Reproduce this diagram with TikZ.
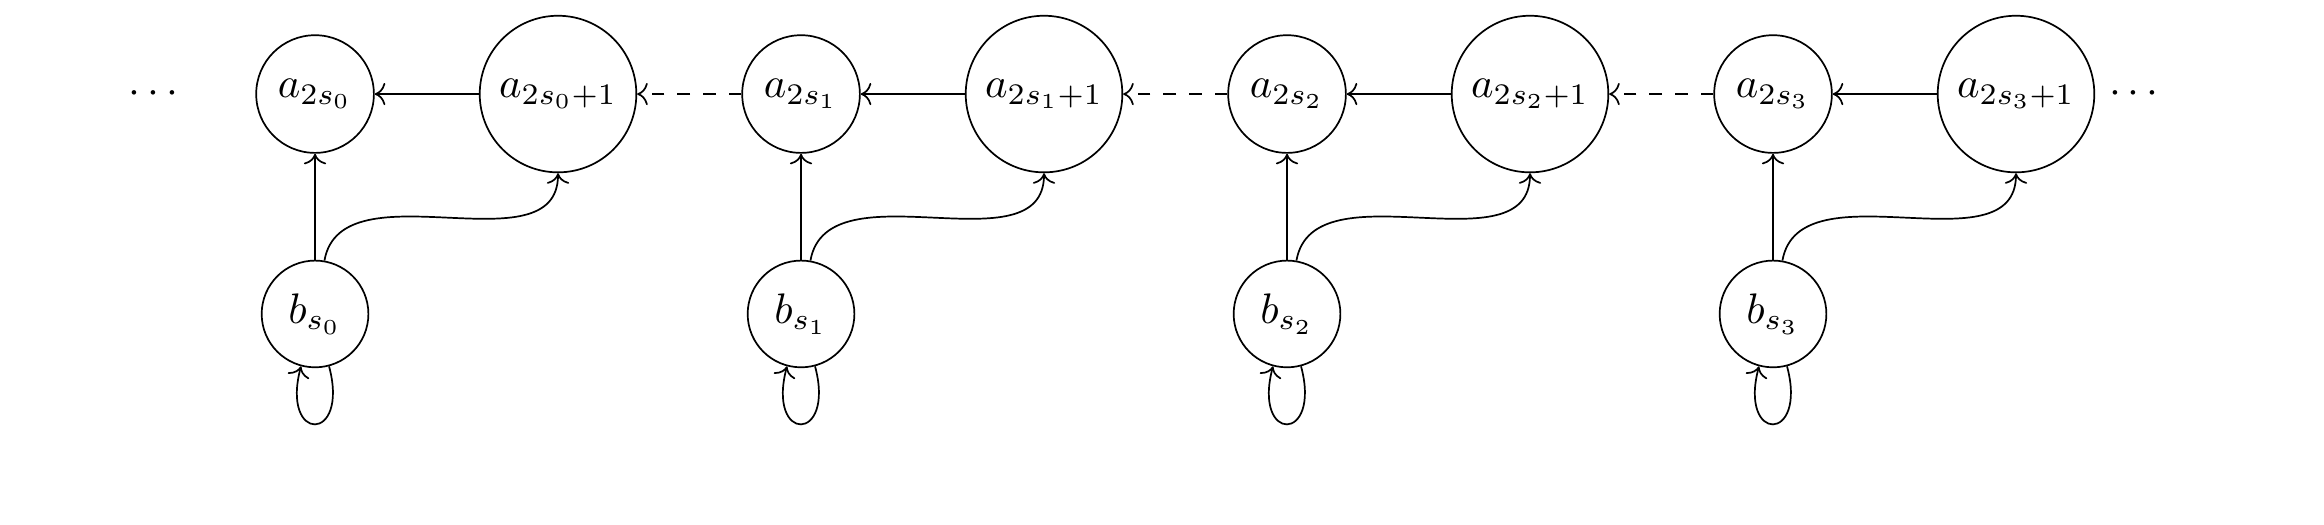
\documentclass[tikz,border=0pt]{standalone}
\usepackage{amsmath,amssymb}
\usepackage{tikz}
\usetikzlibrary{arrows.meta}

\begin{document}
\begin{tikzpicture}[>={Computer Modern Rightarrow}, state/.style={draw, circle}]
    \useasboundingbox (-2.593,-3.539) rectangle (16.535,0.774);

    % the dots at both ends
    \node (ldots) at (-1.3,0) {$\cdots$};
    \node (rdots) at (15.0,0) {$\cdots$};

    % one block per s_k
    \foreach \k in {0,1,2,3} {
      \node[state] (a\k) at (4*\k,0) {$a_{2s_\k}$};
      \node[state] (ap\k) at (4*\k+2,0) {$a_{2s_\k+1}$};
      \node[state] (b\k) at (4*\k,-1.81) {$b_{s_\k}$};
      \draw[->] (ap\k) -- (a\k);
      \draw[->] (b\k) -- (a\k);
      \draw[->] (b\k) to[out=80,in=-90] (ap\k);
      \draw[->] (b\k) edge[loop below, looseness=7.3] (b\k);
    }

    % dashed links between blocks
    \foreach \k/\n in {0/1,1/2,2/3} {
      \draw[->,dashed] (a\n) -- (ap\k);
    }
\end{tikzpicture}
\end{document}
